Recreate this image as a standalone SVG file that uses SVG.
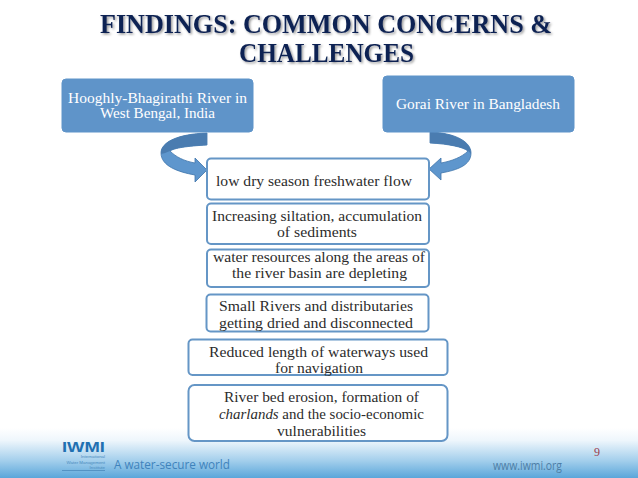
<svg xmlns="http://www.w3.org/2000/svg" width="638" height="478" viewBox="0 0 638 478">
<style>
.t{font-family:"Liberation Serif","DejaVu Serif",serif;font-size:27px;font-weight:700;fill:#0f2352;filter:url(#ts)}
.hd{fill:#5f94c9;stroke:#5f94c9;stroke-width:1}
.bx{fill:#fff;stroke:#6596c6;stroke-width:2}
.w{font-family:"Liberation Serif","DejaVu Serif",serif;font-size:15px;fill:#fff}
.k{font-family:"Liberation Serif","DejaVu Serif",serif;font-size:15.500px;fill:#2c2c2c}
.lo{font-family:"Open Sans","Liberation Sans",sans-serif;fill:#3f83bc}
.sm{font-family:"Liberation Sans",sans-serif;font-size:4.400px;text-anchor:end;fill:#4b8abd}
</style>
<defs>
<linearGradient id="bg" x1="0" y1="0" x2="0" y2="1"><stop offset="0" stop-color="#fff"/><stop offset="0.25" stop-color="#eef6fc"/><stop offset="0.65" stop-color="#a4cfec"/><stop offset="1" stop-color="#5aa6da"/></linearGradient>
<filter id="ts" x="-5%" y="-20%" width="110%" height="140%"><feDropShadow dx="1.500" dy="1.500" stdDeviation="1" flood-color="#000" flood-opacity=".4"/></filter>
</defs>
<rect width="638" height="478" fill="#fff"/>
<rect y="428" width="638" height="50" fill="url(#bg)"/>
<g id="title">
<text class="t" x="100" y="33" textLength="452" lengthAdjust="spacingAndGlyphs">FINDINGS: COMMON CONCERNS &amp;</text>
<text class="t" x="239" y="62" textLength="175" lengthAdjust="spacingAndGlyphs">CHALLENGES</text>
</g>
<g id="connectors">
<path d="M207 133V145C188 146 174 148 170 151C176 157 184 161 195 163V158L207 170L195 182V175C178 172 161 166 161 153C161 142 178 134 207 133Z" fill="#5e96cd" stroke="#3f75ab" stroke-width=".8"/>
<path d="M207 133V145C188 146 174 148 170 151C165 153 161 155 161 153C161 142 178 134 207 133Z" fill="#4a7cb0"/>
<path d="M430 132V143C449 144 463 147 468 151C462 157 452 161 441 163V158L429 169L441 180V173C458 170 471 165 471 153C471 142 456 133 430 132Z" fill="#5e96cd" stroke="#3f75ab" stroke-width=".8"/>
<path d="M430 132V143C449 144 463 147 468 151C471 153 471 155 471 153C471 142 456 133 430 132Z" fill="#4a7cb0"/>
</g>
<g id="n-hooghly">
<rect class="hd" x="62" y="79" width="191" height="53" rx="4"/>
<text class="w" x="68" y="103" textLength="179" lengthAdjust="spacingAndGlyphs">Hooghly-Bhagirathi River in</text>
<text class="w" x="100" y="118" textLength="115" lengthAdjust="spacingAndGlyphs">West Bengal, India</text>
</g>
<g id="n-gorai">
<rect class="hd" x="383" y="76" width="191" height="56" rx="4"/>
<text class="w" x="396" y="109" textLength="164" lengthAdjust="spacingAndGlyphs">Gorai River in Bangladesh</text>
</g>
<g id="n-flow">
<rect class="bx" x="207" y="158.500" width="222" height="41" rx="4"/>
<text class="k" x="216" y="186" textLength="196" lengthAdjust="spacingAndGlyphs">low dry season freshwater flow</text>
</g>
<g id="n-siltation">
<rect class="bx" x="207" y="203.500" width="222" height="40.500" rx="4"/>
<text class="k" x="212" y="221" textLength="210" lengthAdjust="spacingAndGlyphs">Increasing siltation, accumulation</text>
<text class="k" x="277" y="237" textLength="80" lengthAdjust="spacingAndGlyphs">of sediments</text>
</g>
<g id="n-water">
<rect class="bx" x="207" y="249.500" width="222" height="37.500" rx="4"/>
<text class="k" x="213" y="262" textLength="212" lengthAdjust="spacingAndGlyphs">water resources along the areas of</text>
<text class="k" x="232" y="278" textLength="175" lengthAdjust="spacingAndGlyphs">the river basin are depleting</text>
</g>
<g id="n-small">
<rect class="bx" x="206.500" y="294.500" width="222" height="37" rx="4"/>
<text class="k" x="219" y="311" textLength="194" lengthAdjust="spacingAndGlyphs">Small Rivers and distributaries</text>
<text class="k" x="219" y="328" textLength="194" lengthAdjust="spacingAndGlyphs">getting dried and disconnected</text>
</g>
<g id="n-length">
<rect class="bx" x="188.500" y="339.500" width="259" height="35.500" rx="4"/>
<text class="k" x="209" y="357" textLength="219" lengthAdjust="spacingAndGlyphs">Reduced length of waterways used</text>
<text class="k" x="275" y="373" textLength="88" lengthAdjust="spacingAndGlyphs">for navigation</text>
</g>
<g id="n-erosion">
<rect class="bx" x="188.500" y="385" width="259" height="56" rx="6"/>
<text class="k" x="224" y="402" textLength="195" lengthAdjust="spacingAndGlyphs">River bed erosion, formation of</text>
<text class="k" x="219" y="419" textLength="205" lengthAdjust="spacingAndGlyphs"><tspan font-style="italic">charlands</tspan> and the socio-economic</text>
<text class="k" x="277" y="436" textLength="89" lengthAdjust="spacingAndGlyphs">vulnerabilities</text>
</g>
<g id="footer">
<text x="62" y="452" font-family="Liberation Sans,sans-serif" font-size="14.500" font-weight="700" textLength="43" lengthAdjust="spacingAndGlyphs" fill="#1f70b2">IWMI</text>
<text class="sm" x="105" y="458">International</text>
<text class="sm" x="105" y="463.500">Water Management</text>
<text class="sm" x="105" y="469">Institute</text>
<rect x="62" y="470" width="43" height=".8" fill="#4b8abd"/>
<text class="lo" x="114" y="469" font-size="13.500" textLength="116" lengthAdjust="spacingAndGlyphs">A water-secure world</text>
<text class="lo" x="493" y="470" font-size="12" textLength="69" lengthAdjust="spacingAndGlyphs" style="fill:#4d7ea6">www.iwmi.org</text>
<text x="597" y="456" font-family="Liberation Serif,serif" font-size="12" text-anchor="middle" fill="#9c3a4c">9</text>
</g>
</svg>
